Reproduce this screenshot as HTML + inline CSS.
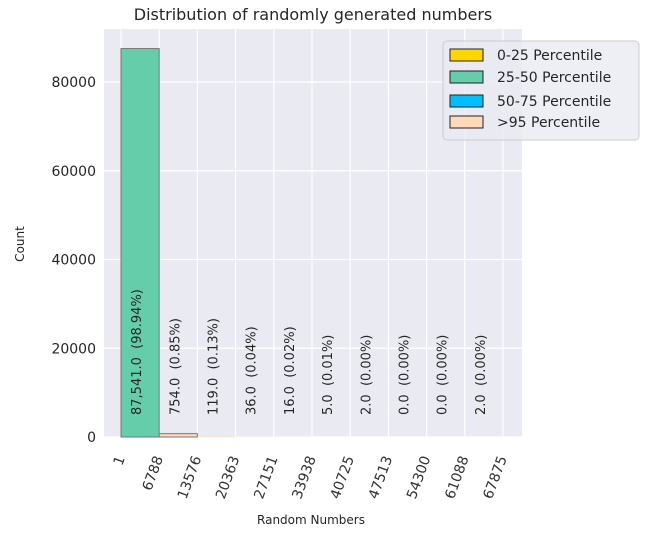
<!DOCTYPE html>
<html><head><meta charset="utf-8"><style>
body{margin:0;background:#fff;}
svg{font-family:"DejaVu Sans","Liberation Sans",sans-serif;}
</style></head><body>
<svg width="651" height="534" xmlns="http://www.w3.org/2000/svg">
<text x="313" y="20" text-anchor="middle" font-size="16" fill="#262626">Distribution of randomly generated numbers</text>
<rect x="104" y="29" width="418" height="408" fill="#eaeaf2"/>
<g id="grid"></g>
<g id="bars"></g>
<g id="labels"></g>
<g id="yticks"></g>
<g id="xticks"></g>
<text transform="translate(24,244) rotate(-90)" text-anchor="middle" font-size="12" fill="#262626">Count</text>
<text x="311" y="524" text-anchor="middle" font-size="12" fill="#262626">Random Numbers</text>
<g>
<rect x="443" y="41" width="196" height="99" rx="4" fill="#eaeaf2" fill-opacity="0.8" stroke="#cccccc"/>
<g><rect x="450" y="49" width="33" height="12" fill="#ffd700" stroke="#222"/><text x="497" y="60" font-size="14" fill="#262626">0-25 Percentile</text></g>
<g><rect x="450" y="71" width="33" height="12" fill="#66cdaa" stroke="#222"/><text x="497" y="82" font-size="14" fill="#262626">25-50 Percentile</text></g>
<g><rect x="450" y="95" width="33" height="12" fill="#00bfff" stroke="#222"/><text x="497" y="106" font-size="14" fill="#262626">50-75 Percentile</text></g>
<g><rect x="450" y="116" width="33" height="12" fill="#ffdab9" stroke="#222"/><text x="497" y="127" font-size="14" fill="#262626">&gt;95 Percentile</text></g>
</g>
</svg>
<script>
const binEdges=[1,6788,13576,20363,27151,33938,40725,47513,54300,61088,67875];
const counts=[87541,754,119,36,16,5,2,0,0,2];
const binColors=["#66cdaa","#ffdab9","#ffdab9","#ffdab9","#ffdab9","#ffdab9","#ffdab9","#ffdab9","#ffdab9","#ffdab9"];
const yTicks=[0,20000,40000,60000,80000];
const NS="http://www.w3.org/2000/svg";
const x0=binEdges[0],x1=binEdges[binEdges.length-1];
const xs=v=>121+(v-x0)/(x1-x0)*(503-121);
const ys=v=>437-v*355/80000;
const total=counts.reduce((a,b)=>a+b,0);
function mk(tag,attrs,parent){const e=document.createElementNS(NS,tag);for(const k in attrs)e.setAttribute(k,attrs[k]);document.getElementById(parent).appendChild(e);return e;}
yTicks.forEach(t=>{
  const l=mk('line',{x1:104,x2:522,y1:ys(t),y2:ys(t),stroke:'#fff','stroke-width':1.2},'grid');
  
  
  const tx=mk('text',{x:96,y:ys(t)+5,'text-anchor':'end','font-size':14,fill:'#262626'},'yticks');
  tx.textContent=t;
  
  
});
binEdges.forEach(e=>{
  const l=mk('line',{x1:xs(e),x2:xs(e),y1:29,y2:437,stroke:'#fff','stroke-width':1.2},'grid');
  
  
  const tx=mk('text',{transform:`translate(${xs(e)+4},458) rotate(-70)`,'text-anchor':'end','font-size':14,fill:'#333'},'xticks');
  tx.textContent=e;
  
  
});
counts.forEach((c,i)=>{
  const xa=xs(binEdges[i]),xb=xs(binEdges[i+1]);
  const h=437-ys(c);
  const r=mk('rect',{x:xa,y:ys(c),width:xb-xa,height:h,fill:binColors[i],stroke:h>=2?'#777':'none','stroke-width':1},'bars');
  
  
  const cx=(xa+xb)/2-4;
  const t=mk('text',{transform:`translate(${cx+5},415) rotate(-90)`,'font-size':13,fill:'#262626'},'labels');
  t.textContent=c.toLocaleString('en-US',{minimumFractionDigits:1})+'  ('+(c/total*100).toFixed(2)+'%)';
  t.style.whiteSpace='pre';
  
  
});
</script>
</body></html>
